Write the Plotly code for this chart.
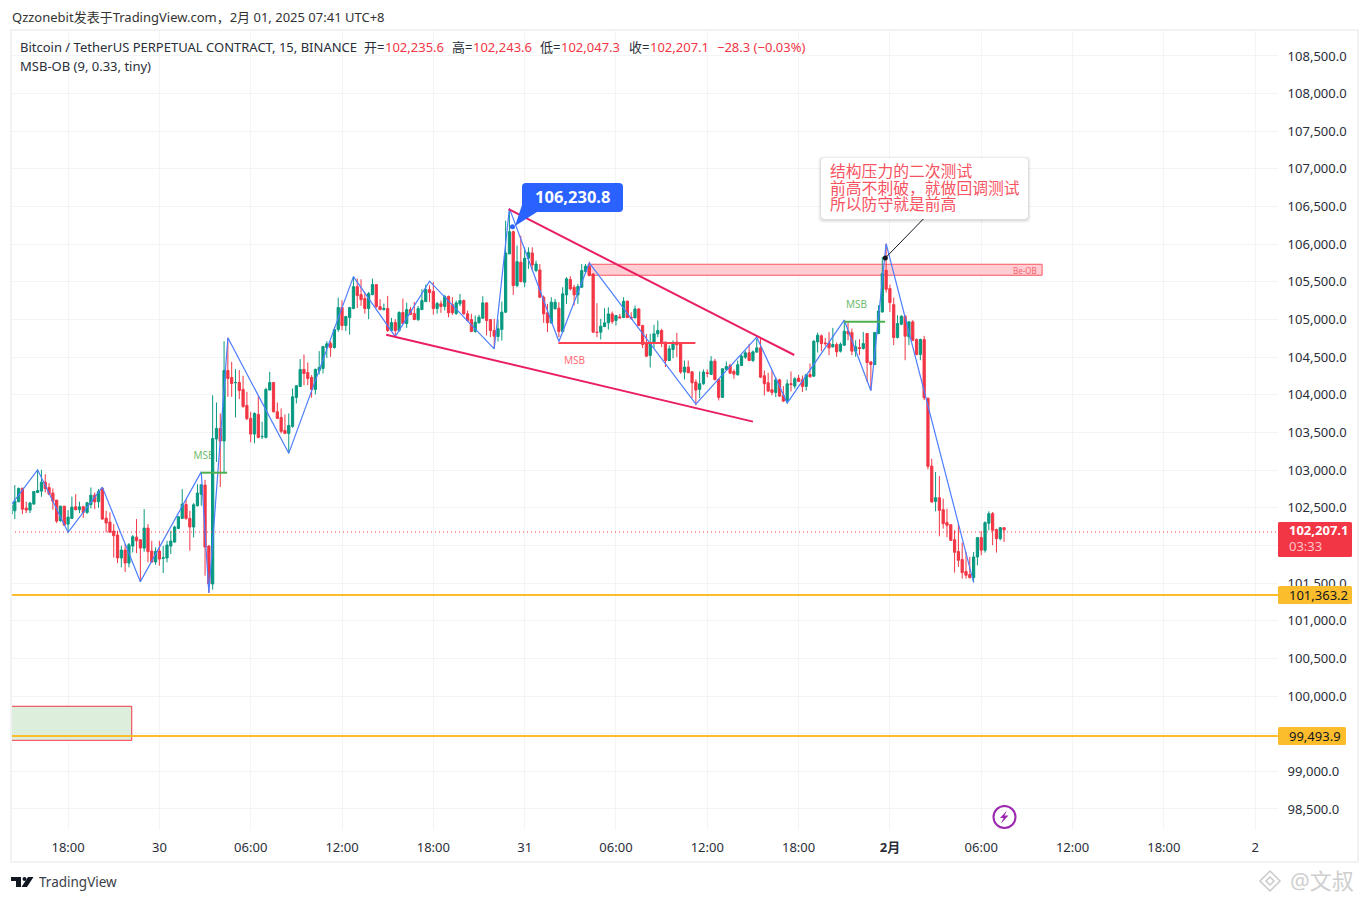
import pandas as pd
import plotly.graph_objects as go

# 15m candles (BTCUSDT perp, Binance)
first_candle = "2025-01-29 14:15"

opens = [
    102416,102460,102580,102761,102496,102469,102549,102703,102721,102840,
    102770,102695,102602,102328,102522,102283,102359,102513,102474,102513,
    102438,102544,102668,102580,102756,102363,102310,102191,102138,101833,
    101939,101766,101992,102111,102076,101965,102230,101925,101780,101925,
    101828,101833,101992,102045,102226,102359,102544,102359,102244,102527,
    102681,102801,101992,101488,103413,103554,103386,104323,104231,104160,
    104164,104072,103859,103687,103479,103740,103444,103435,104063,104164,
    103775,103700,103528,103488,103581,103965,104111,104337,104297,104231,
    104072,104323,104350,104628,104681,104628,104867,105159,104920,105026,
    105146,105437,105331,105278,105146,105331,105464,105172,105132,105146,
    104854,104960,104854,105093,104947,105132,105079,105000,105132,105238,
    105398,105371,105146,105208,105173,105305,105199,105080,105208,105252,
    105076,105000,104841,104956,105018,105221,105000,104855,104775,104868,
    105098,105871,106167,105451,105761,105495,105814,105884,105650,105659,
    105296,105089,104956,105142,105151,104841,105327,105531,105429,105327,
    105429,105637,105708,105606,104832,104832,104907,104956,105075,104987,
    105035,105027,105243,105031,105022,105141,104920,104677,104523,104691,
    104810,104854,104699,104456,104602,104699,104677,104302,104368,104306,
    104169,104072,104147,104293,104271,104447,104204,103966,104337,104390,
    104310,104266,104390,104500,104558,104456,104567,104624,104253,104160,
    104067,104032,104200,103992,103917,104147,104116,104222,104200,104112,
    104270,104248,104703,104783,104690,104690,104637,104668,104580,104659,
    104845,104827,104580,104628,104615,104814,104438,104403,104814,105101,
    105654,105411,105198,104761,104938,105044,104770,104969,104734,104535,
    104734,103956,103054,102585,102634,102475,102303,102276,102077,101918,
    101812,101653,101613,101573,101847,102104,101936,102294,102422,102210,
    102090,102235.6,
]
highs = [
    102544,102801,102770,102761,102580,102580,102721,103004,103004,102946,
    102827,102756,102602,102527,102522,102469,102650,102681,102580,102527,
    102580,102770,102703,102748,102774,102460,102438,102283,102195,101996,
    102018,102032,102138,102350,102085,102482,102283,102062,101974,102062,
    101996,102062,102195,102261,102394,102748,102615,102460,102562,102814,
    102814,102871,102005,103994,103899,103753,104712,104757,104438,104341,
    104328,104253,104041,103775,103767,103988,103643,104094,104306,104164,
    103899,103820,103740,103753,104085,104129,104474,104536,104430,104262,
    104350,104580,104651,104712,104712,104902,105291,105256,105048,105168,
    105570,105543,105535,105358,105367,105543,105464,105269,105212,105314,
    105022,105004,105110,105278,105225,105168,105234,105181,105402,105464,
    105455,105499,105234,105252,105327,105319,105296,105252,105341,105266,
    105120,105076,105053,105062,105310,105230,105000,105009,105000,105239,
    106313,106468,106180,105982,106114,105959,105959,105959,105783,105738,
    105319,105208,105296,105274,105230,105429,105562,105575,105460,105473,
    105738,105738,105769,105606,105217,105009,105150,105163,105106,105062,
    105075,105296,105252,105097,105186,105150,104929,104810,104810,104929,
    104987,104876,104708,104655,104722,104823,104677,104456,104456,104310,
    104204,104310,104337,104337,104514,104478,104213,104346,104443,104412,
    104337,104456,104531,104589,104677,104589,104743,104766,104324,104293,
    104324,104235,104213,104116,104204,104310,104235,104266,104257,104279,
    104416,104726,104827,104801,104756,104836,104889,104695,104695,104991,
    104977,104880,104725,104739,104836,104814,104440,104836,105190,105830,
    106007,105464,105291,105057,105057,105057,104977,104991,104748,104748,
    104783,103960,103151,102974,102921,102621,102488,102276,102201,102303,
    102037,101914,101847,101914,102113,102192,102320,102453,102444,102223,
    102245,102243.6,
]
lows = [
    102315,102350,102571,102416,102429,102429,102544,102695,102646,102703,
    102668,102474,102297,102315,102261,102173,102350,102469,102429,102367,
    102420,102491,102482,102500,102341,102173,102164,101841,101766,101709,
    101647,101709,101908,101899,101519,101917,101775,101775,101744,101731,
    101634,101775,101886,102036,102217,102350,102341,101930,102107,102518,
    102527,101598,101369,101413,103108,102776,102976,103974,103974,103700,
    103943,103828,103665,103369,103356,103422,103413,103422,104063,103767,
    103678,103488,103479,103223,103563,103886,104107,104129,104129,103961,
    104005,104270,104284,104491,104505,104615,104836,104858,104849,104801,
    105137,105154,105181,105079,105004,105322,105154,105124,105119,104836,
    104836,104774,104836,104933,104889,105066,104991,104978,105124,105234,
    105234,105066,105079,105089,105120,105031,105062,105062,105177,105062,
    104974,104832,104824,104947,105009,104788,104766,104611,104709,104722,
    105089,105871,105327,105429,105495,105429,105672,105650,105628,105283,
    104956,104832,104943,105133,104766,104832,105208,105385,105186,105208,
    105420,105606,105575,104824,104766,104735,104898,104867,104943,104920,
    105018,105018,105018,105000,105018,104912,104620,104500,104363,104620,
    104766,104633,104368,104447,104487,104500,104280,104204,104293,103957,
    103860,103957,104134,104235,104266,104191,103926,103961,104328,104280,
    104213,104257,104381,104478,104447,104434,104567,104222,103992,104036,
    103992,103970,103970,103904,103882,104045,104081,104169,104036,104058,
    104230,104239,104562,104580,104650,104527,104628,104505,104562,104650,
    104725,104527,104505,104527,104602,104173,104063,104394,104805,105092,
    105358,105101,104659,104748,104924,104460,104659,104712,104527,104460,
    103930,103010,102568,102453,102121,102223,102108,102059,101640,101715,
    101560,101560,101560,101516,101737,101869,101905,102201,102002,101905,
    102068,102047.3,
]
closes = [
    102535,102588,102756,102482,102469,102562,102717,102730,102840,102756,
    102681,102588,102323,102522,102270,102376,102509,102474,102513,102438,
    102566,102668,102580,102717,102350,102297,102177,102129,101833,101939,
    101766,102009,102116,102062,101965,102230,101917,101780,101921,101819,
    101837,102005,102058,102244,102381,102549,102359,102244,102540,102695,
    102805,101979,101488,103420,103554,103386,104323,104217,104151,104164,
    104058,103846,103683,103479,103753,103435,103448,104072,104164,103775,
    103687,103515,103488,103594,103974,104120,104337,104284,104217,104072,
    104337,104363,104642,104677,104628,104867,105159,104920,105040,105159,
    105437,105318,105265,105146,105344,105464,105172,105132,105146,104854,
    104960,104854,105093,104947,105132,105066,105000,105146,105252,105398,
    105358,105146,105212,105173,105305,105089,105089,105221,105252,105076,
    104987,104841,104965,105031,105221,104987,104855,104779,104877,105098,
    105884,106167,105451,105769,105504,105814,105893,105725,105738,105296,
    105076,104956,105230,105230,104841,105341,105540,105407,105327,105438,
    105650,105708,105584,104832,104828,104912,104956,105075,104973,105053,
    105022,105243,105027,105018,105141,104920,104668,104514,104677,104810,
    104854,104691,104456,104611,104691,104664,104302,104368,104293,104160,
    104063,104147,104302,104284,104447,104204,103966,104346,104377,104288,
    104275,104399,104514,104558,104456,104571,104624,104235,104147,104050,
    104032,104200,103983,103917,104147,104138,104213,104178,104112,104266,
    104239,104712,104792,104681,104681,104624,104668,104571,104672,104845,
    104810,104580,104637,104615,104681,104429,104403,104827,105114,105610,
    105402,105225,104761,104947,105044,104779,104969,104725,104535,104734,
    103961,103050,102577,102634,102466,102289,102267,102068,101909,101803,
    101640,101604,101573,101847,102104,101936,102303,102422,102201,102090,
    102236,102207.1,
]

# MSB-OB zigzag pivots: candle number and price
zigzag_idx = [0, 7, 15, 24, 34, 50, 52, 57, 73, 90, 101, 110, 127, 131, 144, 152, 180, 196, 204, 219, 226, 230, 253]
zigzag_price = [102535, 103004, 102173, 102774, 101519, 102977, 101369, 104757, 103223, 105570, 104774, 105509,
                104611, 106476, 104709, 105752, 103877, 104766, 103890, 104991, 104054, 106007, 101507]

# hand drawn trend lines
upper_x = ["2025-01-30 22:57", "2025-01-31 17:43"]
upper_y = [106465, 104529]
lower_x = ["2025-01-30 14:54", "2025-01-31 15:00"]
lower_y = [104799, 103644]

# MSB levels: start, end, price
msb_green_1 = ["2025-01-30 02:44", "2025-01-30 04:27", 102966]
msb_green_2 = ["2025-01-31 21:00", "2025-01-31 23:41", 104972]
msb_red = ["2025-01-31 02:13", "2025-01-31 11:13", 104689]

# supply / demand boxes
ob_box = ["2025-01-31 04:10", "2025-02-01 10:00", 105588, 105734]
demand_box = ["2025-01-29 13:00", "2025-01-29 22:11", 99412, 99864]

bubble_x = ["2025-01-30 23:12"]
bubble_y = [106230.8]
note_x = ["2025-02-01 02:12", "2025-01-31 23:42"]
note_y = [106336, 105817]

price_ticks = [98500 + 500 * k for k in range(21)]
# 102,000 and 99,500 sit behind the price tags, only their grid lines show
hidden_ticks = [102000, 99500]
price_labels = ["" if v in hidden_ticks else f"{v:,.1f}" for v in price_ticks]
time_ticks = ["2025-01-29 18:00", "2025-01-30 00:00", "2025-01-30 06:00", "2025-01-30 12:00", "2025-01-30 18:00",
              "2025-01-31 00:00", "2025-01-31 06:00", "2025-01-31 12:00", "2025-01-31 18:00", "2025-02-01 00:00",
              "2025-02-01 06:00", "2025-02-01 12:00", "2025-02-01 18:00", "2025-02-02 00:00"]
time_labels = ["18:00", "30", "06:00", "12:00", "18:00", "31", "06:00", "12:00", "18:00", "<b>2月</b>",
               "06:00", "12:00", "18:00", "2"]

GREEN = "#089981"
RED = "#F23645"
BLUE = "#2962FF"
PINK = "#E91E63"
AMBER = "#FBBD2B"
DARK = "#2A2E39"
FONT = "Noto Sans, Noto Sans CJK SC, sans-serif"

W, H = 1353, 886
L, R, T, B = 11, 1278, 30, 830


def px(x):
    return (x - L) / (R - L)


def py(y):
    return (B - y) / (B - T)


def round_rect(x0, y0, x1, y1, r):
    pts = [
        f"M {px(x0 + r)} {py(y0)}", f"L {px(x1 - r)} {py(y0)}", f"Q {px(x1)} {py(y0)} {px(x1)} {py(y0 + r)}",
        f"L {px(x1)} {py(y1 - r)}", f"Q {px(x1)} {py(y1)} {px(x1 - r)} {py(y1)}", f"L {px(x0 + r)} {py(y1)}",
        f"Q {px(x0)} {py(y1)} {px(x0)} {py(y1 - r)}", f"L {px(x0)} {py(y0 + r)}",
        f"Q {px(x0)} {py(y0)} {px(x0 + r)} {py(y0)}", "Z",
    ]
    return " ".join(pts)


def poly(points):
    return " ".join(("M" if n == 0 else "L") + f" {px(a)} {py(b)}" for n, (a, b) in enumerate(points)) + " Z"


times = pd.date_range(first_candle, periods=len(opens), freq="15min")

fig = go.Figure()

fig.add_trace(go.Candlestick(
    x=times, open=opens, high=highs, low=lows, close=closes,
    increasing=dict(line=dict(color=GREEN, width=1), fillcolor=GREEN),
    decreasing=dict(line=dict(color=RED, width=1), fillcolor=RED),
    whiskerwidth=0, showlegend=False,
))

fig.add_trace(go.Scatter(
    x=times[zigzag_idx], y=zigzag_price, mode="lines",
    line=dict(color="#4C7DFF", width=1.2), showlegend=False, hoverinfo="skip",
))
for xs, ys in [(upper_x, upper_y), (lower_x, lower_y)]:
    fig.add_trace(go.Scatter(x=xs, y=ys, mode="lines", line=dict(color=PINK, width=2),
                             showlegend=False, hoverinfo="skip"))
for lv, col in [(msb_green_1, "#4CAF50"), (msb_green_2, "#4CAF50"), (msb_red, "#FF4252")]:
    fig.add_trace(go.Scatter(x=lv[:2], y=[lv[2], lv[2]], mode="lines", line=dict(color=col, width=2),
                             showlegend=False, hoverinfo="skip"))
fig.add_trace(go.Scatter(x=note_x, y=note_y, mode="lines", line=dict(color="#131722", width=1),
                         showlegend=False, hoverinfo="skip"))
fig.add_trace(go.Scatter(x=note_x[1:], y=note_y[1:], mode="markers", marker=dict(color="#131722", size=5),
                         showlegend=False, hoverinfo="skip"))
fig.add_trace(go.Scatter(x=bubble_x, y=bubble_y, mode="markers", marker=dict(color=BLUE, size=5),
                         showlegend=False, hoverinfo="skip"))

shapes = []
# order block boxes
shapes.append(dict(type="rect", layer="between", xref="x", yref="y", x0=ob_box[0], x1=ob_box[1], y0=ob_box[2], y1=ob_box[3],
                   fillcolor="#FFCDD2", line=dict(color="#FA5661", width=1)))
shapes.append(dict(type="rect", layer="between", xref="x", yref="y", x0=demand_box[0], x1=demand_box[1], y0=demand_box[2],
                   y1=demand_box[3], fillcolor="#DDEEDD", line=dict(color=RED, width=1)))
# key levels, the tradingview price scale puts these a touch lower than the ticks
for y in [595, 736]:
    shapes.append(dict(type="line", xref="paper", yref="paper", x0=0, x1=1, y0=py(y), y1=py(y),
                       line=dict(color=AMBER, width=2)))
shapes.append(dict(type="line", xref="paper", yref="paper", x0=0, x1=1, y0=py(532), y1=py(532),
                   line=dict(color=RED, width=1, dash="1px,3px")))
# outer frame
shapes.append(dict(type="rect", xref="paper", yref="paper", x0=px(11), x1=px(1358), y0=py(862), y1=py(30),
                   line=dict(color="#F1F2F4", width=2)))
# axis tags
for x0, y0, x1, y1, col in [(1278, 522, 1352, 557, RED), (1278, 586, 1352, 604, AMBER), (1278, 727, 1346, 745, AMBER)]:
    shapes.append(dict(type="path", xref="paper", yref="paper", path=round_rect(x0, y0, x1, y1, 1.5),
                       fillcolor=col, line=dict(width=0)))
# blue price bubble
shapes.append(dict(type="path", xref="paper", yref="paper", path=round_rect(522, 183, 623, 212, 4),
                   fillcolor=BLUE, line=dict(width=0)))
shapes.append(dict(type="path", xref="paper", yref="paper", path=poly([(522, 205), (537, 212), (515, 226)]),
                   fillcolor=BLUE, line=dict(width=0)))
# callout with soft shadow
for grow, alpha in [(3, 0.03), (2, 0.04), (1, 0.06)]:
    shapes.append(dict(type="path", xref="paper", yref="paper",
                       path=round_rect(821 - grow, 158 - grow + 1, 1028 + grow, 219 + grow + 1, 5),
                       fillcolor=f"rgba(0,0,0,{alpha})", line=dict(width=0)))
shapes.append(dict(type="path", xref="paper", yref="paper", path=round_rect(821, 158, 1028, 219, 4),
                   fillcolor="white", line=dict(width=0)))
# lightning badge
shapes.append(dict(type="circle", xref="paper", yref="paper", x0=px(993.5), x1=px(1015.5), y0=py(828), y1=py(806),
                   fillcolor="white", line=dict(color="#9C27B0", width=2)))
shapes.append(dict(type="path", xref="paper", yref="paper",
                   path=poly([(1007, 810.5), (1000, 818), (1003.5, 818), (1001, 823.5), (1008.5, 815.5), (1004.5, 815.5)]),
                   fillcolor="#9C27B0", line=dict(width=0)))
# TradingView logo
shapes.append(dict(type="path", xref="paper", yref="paper",
                   path=poly([(11, 877), (21, 877), (21, 887), (16, 887), (16, 881), (11, 881)]),
                   fillcolor="#131722", line=dict(width=0)))
shapes.append(dict(type="circle", xref="paper", yref="paper", x0=px(22.5), x1=px(26.5), y0=py(881), y1=py(877),
                   fillcolor="#131722", line=dict(width=0)))
shapes.append(dict(type="path", xref="paper", yref="paper", path=poly([(28, 877), (33.5, 877), (27, 887), (21.5, 887)]),
                   fillcolor="#131722", line=dict(width=0)))
# watermark icon
shapes.append(dict(type="path", xref="paper", yref="paper",
                   path=poly([(1260, 881), (1270, 871), (1280, 881), (1270, 891)]),
                   fillcolor="rgba(255,255,255,0)", line=dict(color="#C9C9C9", width=1.5)))
shapes.append(dict(type="path", xref="paper", yref="paper", path=poly([(1266, 881), (1270, 877), (1274, 881), (1270, 885)]),
                   fillcolor="rgba(255,255,255,0)", line=dict(color="#C9C9C9", width=1.5)))
# this MSB sits behind the candles in the original
shapes.append(dict(type="line", layer="between", xref="paper", yref="paper", x0=px(190), x1=px(218), y0=py(456), y1=py(456),
                   line=dict(color="rgba(0,0,0,0)", width=1),
                   label=dict(text="MSB", textposition="middle center", yanchor="middle",
                              font=dict(family=FONT, size=10, color="#6DBB70"))))


def label(text, x, y, size=13, color=DARK, anchor="left", **kw):
    return dict(text=text, xref="paper", yref="paper", x=px(x), y=py(y), xanchor=anchor, yanchor="middle",
                showarrow=False, font=dict(family=FONT, size=size, color=color), borderpad=0, **kw)


annotations = [
    label("Qzzonebit发表于TradingView.com，2月 01, 2025 07:41 UTC+8", 11, 17, 13, "#333333"),
    label("Bitcoin / TetherUS PERPETUAL CONTRACT, 15, BINANCE", 19, 47, 13),
    label("开=", 363, 47, 13), label("102,235.6", 384, 47, 13, RED),
    label("高=", 451, 47, 13), label("102,243.6", 472, 47, 13, RED),
    label("低=", 539, 47, 13), label("102,047.3", 560, 47, 13, RED),
    label("收=", 628, 47, 13), label("102,207.1", 649, 47, 13, RED),
    label("−28.3 (−0.03%)", 716, 47, 13, RED),
    label("MSB-OB (9, 0.33, tiny)", 19, 66, 13),
    label("MSB", 856, 304, 10, "#6DBB70", "center"),
    label("MSB", 574, 360, 10, "#FF6B76", "center"),
    label("Be-OB", 1038, 270, 8, "#F7626E", "right"),
    label("<b>106,230.8</b>", 572.5, 196, 16.5, "white", "center"),
    label("结构压力的二次测试", 829, 171, 15.8, "#F7525F"),
    label("前高不刺破，就做回调测试", 829, 188, 15.8, "#F7525F"),
    label("所以防守就是前高", 829, 204, 15.8, "#F7525F"),
    label("TradingView", 38, 882, 13.5, "#3A3E49"),
    label("@文叔", 1322, 880, 22, "#CFCFCF", "center"),
    # price tag texts
    label("<b>102,207.1</b>", 1288, 530, 13, "white"),
    label("03:33", 1288, 546, 13, "#FFC2C7"),
    label("101,363.2", 1288, 595, 13, "#131722"),
    label("99,493.9", 1288, 736, 13, "#131722"),
]

fig.update_layout(
    width=W, height=H,
    margin=dict(l=L - 8, r=W - (R - 8), t=T - 8, b=H - (B - 8), pad=0),
    paper_bgcolor="white", plot_bgcolor="white",
    boxgap=0.35, boxgroupgap=0.1,
    font=dict(family=FONT, size=13, color=DARK),
    showlegend=False,
    shapes=shapes, annotations=annotations,
    hovermode=False,
)
fig.update_xaxes(
    rangeslider_visible=False, type="date",
    range=[first_candle, "2025-02-02 01:30"],
    tickmode="array", tickvals=time_ticks, ticktext=time_labels, tickangle=0,
    showgrid=True, gridcolor="#F3F4F6", gridwidth=1, zeroline=False, showline=False,
    ticks="outside", ticklen=5, tickcolor="white", tickfont=dict(size=13, color=DARK),
)
fig.update_yaxes(
    side="right", range=[98221, 108845],
    tickmode="array", tickvals=price_ticks, ticktext=price_labels,
    showgrid=True, gridcolor="#F3F4F6", gridwidth=1, zeroline=False, showline=False,
    ticks="outside", ticklen=6, tickcolor="white", tickfont=dict(size=13, color=DARK),
)

fig.write_html("out.html")
